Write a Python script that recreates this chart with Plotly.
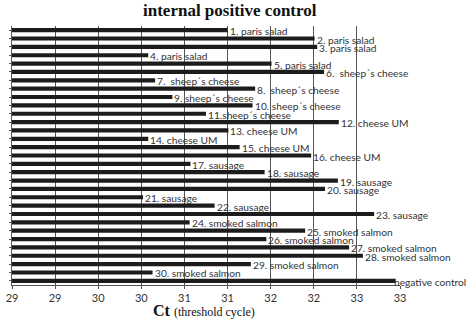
import plotly.graph_objects as go

labels = [
    "1. paris salad", "2. paris salad", "3. paris salad", "4. paris salad", "5. paris salad",
    "6.  sheep´s cheese", "7.  sheep´s cheese", "8.  sheep´s cheese", "9. sheep´s cheese",
    "10. sheep´s cheese", "11.sheep´s cheese",
    "12. cheese UM", "13. cheese UM", "14. cheese UM", "15. cheese UM", "16. cheese UM",
    "17. sausage", "18. sausage", "19. sausage", "20. sausage", "21. sausage", "22. sausage", "23. sausage",
    "24. smoked salmon", "25. smoked salmon", "26. smoked salmon", "27. smoked salmon",
    "28. smoked salmon", "29. smoked salmon", "30. smoked salmon",
    "negative control",
]
ct_values = [
    31.00, 32.01, 32.04, 30.08, 31.51,
    32.12, 30.16, 31.32, 30.36, 31.29, 30.75,
    32.29, 31.01, 30.08, 31.14, 31.97,
    30.57, 31.43, 32.28, 32.13, 30.02, 30.85, 32.70,
    30.56, 31.90, 31.45, 32.41, 32.57, 31.27, 30.13,
    32.95,
]
tick_vals = [28.5, 29.0, 29.5, 30.0, 30.5, 31.0, 31.5, 32.0, 32.5, 33.0]
tick_text = ["29", "29", "30", "30", "31", "31", "32", "32", "33", "33"]

cats = list(range(len(labels)))

fig = go.Figure()
fig.add_trace(go.Bar(
    y=cats, x=ct_values, orientation="h", width=0.5,
    marker=dict(color="#1c1c1c", line=dict(width=0)),
    hoverinfo="skip",
))

label_annotations = []
for i, (lab, val, c) in enumerate(zip(labels, ct_values, cats)):
    last = i == len(labels) - 1
    label_annotations.append(dict(
        text=lab, x=val, y=c, xref="x", yref="y", xanchor="left", yanchor="middle",
        xshift=-3 if last else 1, yshift=-1, showarrow=False, borderpad=0,
        font=dict(family="Lato, Open Sans, sans-serif", size=10.2, color="#333333")))

fig.update_layout(
    width=474, height=323,
    margin=dict(l=6, r=74, t=26, b=38),
    paper_bgcolor="white", plot_bgcolor="white",
    showlegend=False,
    xaxis=dict(
        range=[28.5, 33.0], tickvals=tick_vals, ticktext=tick_text,
        showgrid=True, gridcolor="#555555", gridwidth=1,
        showline=True, linecolor="#555555", linewidth=1,
        ticks="outside", ticklen=3, tickcolor="#555555",
        tickfont=dict(family="Lato, Open Sans, sans-serif", size=11, color="#333333"),
        zeroline=False, fixedrange=True,
    ),
    yaxis=dict(
        range=[len(labels) - 0.5, -0.5], showticklabels=False,
        tickvals=cats,
        showline=True, linecolor="#555555", linewidth=1,
        ticks="outside", ticklen=2, tickcolor="#555555",
        showgrid=False, zeroline=False, fixedrange=True,
    ),
    annotations=label_annotations + [
        dict(text="<b>internal positive control</b>", xref="paper", yref="paper",
             x=0.561, y=1.0, yshift=27, xanchor="center", yanchor="top",
             showarrow=False,
             font=dict(family="Liberation Serif, Times New Roman, serif", size=17, color="#111111")),
        dict(text="<b>Ct</b> <span style='font-size:12px'>(threshold cycle)</span>",
             xref="paper", yref="paper", x=0.495, y=0, yshift=-36,
             xanchor="center", yanchor="bottom", showarrow=False,
             font=dict(family="Liberation Serif, Times New Roman, serif", size=16, color="#111111")),
    ],
)

fig.write_html("out.html")
